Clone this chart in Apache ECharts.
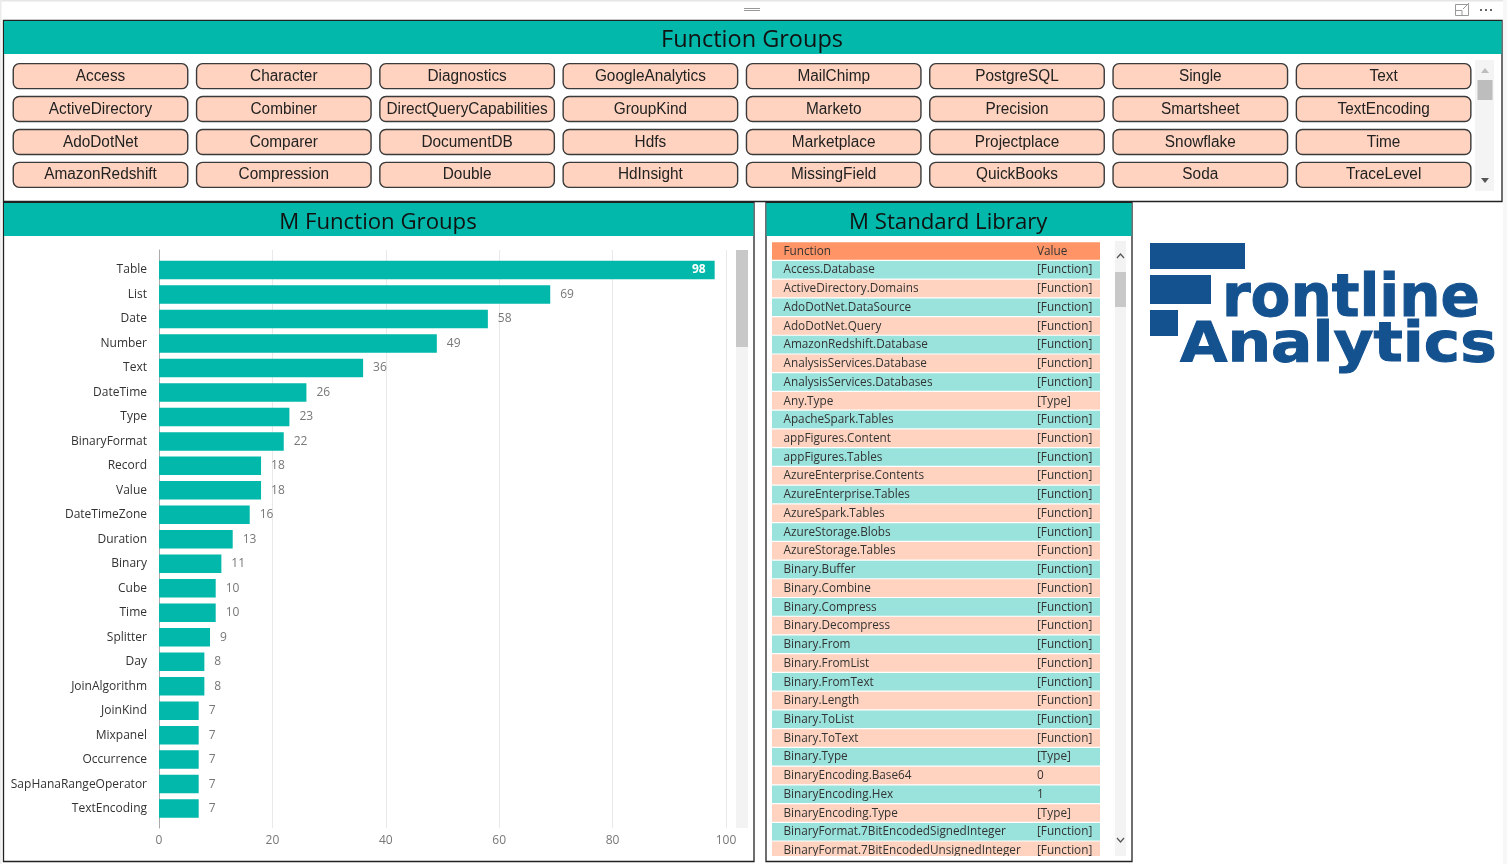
<!DOCTYPE html>
<html><head><meta charset="utf-8">
<style>html,body{margin:0;padding:0;background:#fff;overflow:hidden}#c{width:1507px;height:864px}</style>
<script src="https://cdn.jsdelivr.net/npm/echarts@6/dist/echarts.min.js"></script>
</head><body><div id="c"></div>
<script>
const slicerItems = ['Access','ActiveDirectory','AdoDotNet','AmazonRedshift','Character','Combiner','Comparer','Compression','Diagnostics','DirectQueryCapabilities','DocumentDB','Double','GoogleAnalytics','GroupKind','Hdfs','HdInsight','MailChimp','Marketo','Marketplace','MissingField','PostgreSQL','Precision','Projectplace','QuickBooks','Single','Smartsheet','Snowflake','Soda','Text','TextEncoding','Time','TraceLevel'];
const slicerCols = ['c1','c2','c3','c4','c5','c6','c7','c8'];
const slicerRows = ['r1','r2','r3','r4'];
const groupNames = ['Table','List','Date','Number','Text','DateTime','Type','BinaryFormat','Record','Value','DateTimeZone','Duration','Binary','Cube','Time','Splitter','Day','JoinAlgorithm','JoinKind','Mixpanel','Occurrence','SapHanaRangeOperator','TextEncoding'];
const groupCounts = [98,69,58,49,36,26,23,22,18,18,16,13,11,10,10,9,8,8,7,7,7,7,7];
const tableHeader = ['Function','Value'];
const tableFunctions = ['Access.Database','ActiveDirectory.Domains','AdoDotNet.DataSource','AdoDotNet.Query','AmazonRedshift.Database','AnalysisServices.Database','AnalysisServices.Databases','Any.Type','ApacheSpark.Tables','appFigures.Content','appFigures.Tables','AzureEnterprise.Contents','AzureEnterprise.Tables','AzureSpark.Tables','AzureStorage.Blobs','AzureStorage.Tables','Binary.Buffer','Binary.Combine','Binary.Compress','Binary.Decompress','Binary.From','Binary.FromList','Binary.FromText','Binary.Length','Binary.ToList','Binary.ToText','Binary.Type','BinaryEncoding.Base64','BinaryEncoding.Hex','BinaryEncoding.Type','BinaryFormat.7BitEncodedSignedInteger','BinaryFormat.7BitEncodedUnsignedInteger'];
const tableValues = ['[Function]','[Function]','[Function]','[Function]','[Function]','[Function]','[Function]','[Type]','[Function]','[Function]','[Function]','[Function]','[Function]','[Function]','[Function]','[Function]','[Function]','[Function]','[Function]','[Function]','[Function]','[Function]','[Function]','[Function]','[Function]','[Function]','[Type]','0','1','[Type]','[Function]','[Function]'];
const axisTicks = [0,20,40,60,80,100];

const TEAL='#01B8AA', PEACH='#FFD3BF', TEALROW='#99E3DC', HEAD='#FF9566', BLUE='#14518F', UI='"Open Sans"';
const chart = echarts.init(document.getElementById('c'), null, {renderer:'canvas'});

const tableRows = [tableHeader].concat(tableFunctions.map((f,i)=>[f,tableValues[i]]));
function panel(x,y,w,h,title,size){
  return [
    {type:'rect',shape:{x:x+.5,y:y+.5,width:w-.5,height:h},style:{fill:'#fff',stroke:'#222',lineWidth:1.3}},
    {type:'rect',shape:{x:x+1,y:y+1,width:w-1.5,height:33},style:{fill:TEAL}},
    {type:'text',x:x+w/2-.5,y:y+20.5,style:{text:title,font:size+'px '+UI,fill:'#111',align:'center',verticalAlign:'middle'}}
  ];
}
const rect=(x,y,w,h,fill)=>({type:'rect',shape:{x,y,width:w,height:h},style:{fill}});
const line=(pts,stroke,lw)=>({type:'polyline',shape:{points:pts},style:{stroke,lineWidth:lw||1,fill:null}});
const tri=(pts,fill)=>({type:'polygon',shape:{points:pts},style:{fill}});

const elements = [].concat(
  [rect(0,0,1507,1.5,'#e6e6e6'),rect(0,0,1.5,864,'#ececec'),rect(1503,0,4,864,'#f7f7f7')],
  panel(3,20,1499,181,'Function Groups',23.5),
  panel(3,202,751,659,'M Function Groups',22.2),
  panel(765.5,202,366.5,659,'M Standard Library',22.2),
  [
   rect(744,8,16,1,'#999'),rect(744,10,16,1,'#999'),
   {type:'rect',shape:{x:1455.5,y:4.5,width:13,height:11},style:{fill:'#fff',stroke:'#999',lineWidth:1}},
   line([[1455,10.5],[1462,10.5],[1462,15]],'#999'),line([[1463,9],[1469,3]],'#999'),
   rect(1480,9,2,2,'#666'),rect(1485,9,2,2,'#666'),rect(1490,9,2,2,'#666'),
   rect(1475,60,19,131,'#f4f4f4'),rect(1477.5,80,15,20,'#bdbdbd'),
   tri([[1481,73],[1489,73],[1485,68]],'#bdbdbd'),tri([[1481,178],[1489,178],[1485,183]],'#555'),
   rect(736,250,12,578,'#f3f3f3'),rect(736,250,12,97,'#c8c8c8'),
   rect(1115,241,11,615,'#f3f3f3'),rect(1115,272,11,35,'#c8c8c8'),
   line([[1117,258],[1120.5,254],[1124,258]],'#555',1.2),line([[1117,838],[1120.5,842],[1124,838]],'#555',1.2),
   rect(1150,243,95,26,BLUE),rect(1150,275,61,29,BLUE),rect(1150,310,28,26,BLUE),
   {type:'text',x:1222,y:330,style:{text:'rontline',font:'bold 58px "DejaVu Sans"',fill:BLUE,stroke:BLUE,lineWidth:1,align:'left',verticalAlign:'bottom'}},
   {type:'text',x:1180,y:374,scaleX:1.115,style:{text:'Analytics',font:'bold 55px "DejaVu Sans"',fill:BLUE,stroke:BLUE,lineWidth:1,align:'left',verticalAlign:'bottom'}}
  ]
);

chart.setOption({
  animation:false,
  backgroundColor:'#fff',
  graphic:{elements},
  grid:[
    {left:159,top:250,width:567,height:578},
    {left:159,top:257.8,width:567,height:563},
    {left:8.85,top:59.7,width:1466.4,height:131.6},
    {left:772,top:241.6,width:328,height:614.4}
  ],
  xAxis:[
    {type:'value',gridIndex:0,min:0,max:100,interval:axisTicks[1]-axisTicks[0],
     axisLine:{show:false},axisTick:{show:false},
     splitLine:{show:true,lineStyle:{color:'#e9e9e9',width:1}},
     axisLabel:{color:'#777',fontSize:12,fontFamily:UI,margin:7}},
    {type:'value',gridIndex:1,min:0,max:100,show:false},
    {type:'category',gridIndex:2,data:slicerCols,show:false},
    {type:'value',gridIndex:3,min:0,max:1,show:false}
  ],
  yAxis:[
    {type:'category',gridIndex:0,data:[''],axisLine:{show:true,onZero:false,lineStyle:{color:'#aaa'}},axisTick:{show:false},axisLabel:{show:false},splitLine:{show:false}},
    {type:'category',gridIndex:1,data:groupNames,inverse:true,axisLine:{show:false},axisTick:{show:false},
     axisLabel:{color:'#333',fontSize:12,fontFamily:UI,margin:12,interval:0}},
    {type:'category',gridIndex:2,data:slicerRows,inverse:true,show:false},
    {type:'value',gridIndex:3,min:0,max:32.8,inverse:true,show:false}
  ],
  series:[
    {type:'bar',xAxisIndex:1,yAxisIndex:1,barWidth:18.5,
     data:groupCounts.map((v,i)=> i===0?{value:v,label:{position:'insideRight',color:'#fff',fontWeight:'bold',distance:9}}:v),
     itemStyle:{color:TEAL},
     label:{show:true,position:'right',distance:10,color:'#777',fontSize:12,fontFamily:UI}},
    {type:'custom',xAxisIndex:2,yAxisIndex:2,coordinateSystem:'cartesian2d',
     data:slicerItems.map((t,i)=>[Math.floor(i/4),i%4]),
     encode:{x:0,y:1},
     renderItem(params,api){
       const c=api.coord([api.value(0),api.value(1)]);
       const w=174.5,h=25,t=slicerItems[params.dataIndex];
       return {type:'group',children:[
         {type:'rect',shape:{x:c[0]-w/2,y:c[1]-h/2,width:w,height:h,r:6},style:{fill:PEACH,stroke:'#3a3a3a',lineWidth:1.4}},
         {type:'text',x:c[0],y:c[1]+(api.value(1)===3?-.5:.5),scaleX:.96,style:{text:t,font:'16px "Liberation Sans"',fill:'#222',align:'center',verticalAlign:'middle'}}
       ]};
     }},
    {type:'custom',xAxisIndex:3,yAxisIndex:3,coordinateSystem:'cartesian2d',clip:true,
     data:tableRows.map((r,i)=>[0,i]),
     encode:{x:0,y:1},
     renderItem(params,api){
       const i=api.value(1);
       const tl=api.coord([0,i]),br=api.coord([1,i+1]);
       const fill=i===0?HEAD:(i%2?TEALROW:PEACH);
       const mid=(tl[1]+br[1])/2+.4,row=tableRows[params.dataIndex];
       return {type:'group',children:[
         {type:'rect',shape:{x:tl[0],y:tl[1]+.6,width:br[0]-tl[0],height:br[1]-tl[1]-1.2},style:{fill}},
         {type:'text',x:tl[0]+11.5,y:mid,style:{text:row[0],font:'11.75px '+UI,fill:'#333',align:'left',verticalAlign:'middle'}},
         {type:'text',x:tl[0]+265,y:mid,style:{text:row[1],font:'11.75px '+UI,fill:'#333',align:'left',verticalAlign:'middle'}}
       ]};
     }}
  ]
});
</script></body></html>
